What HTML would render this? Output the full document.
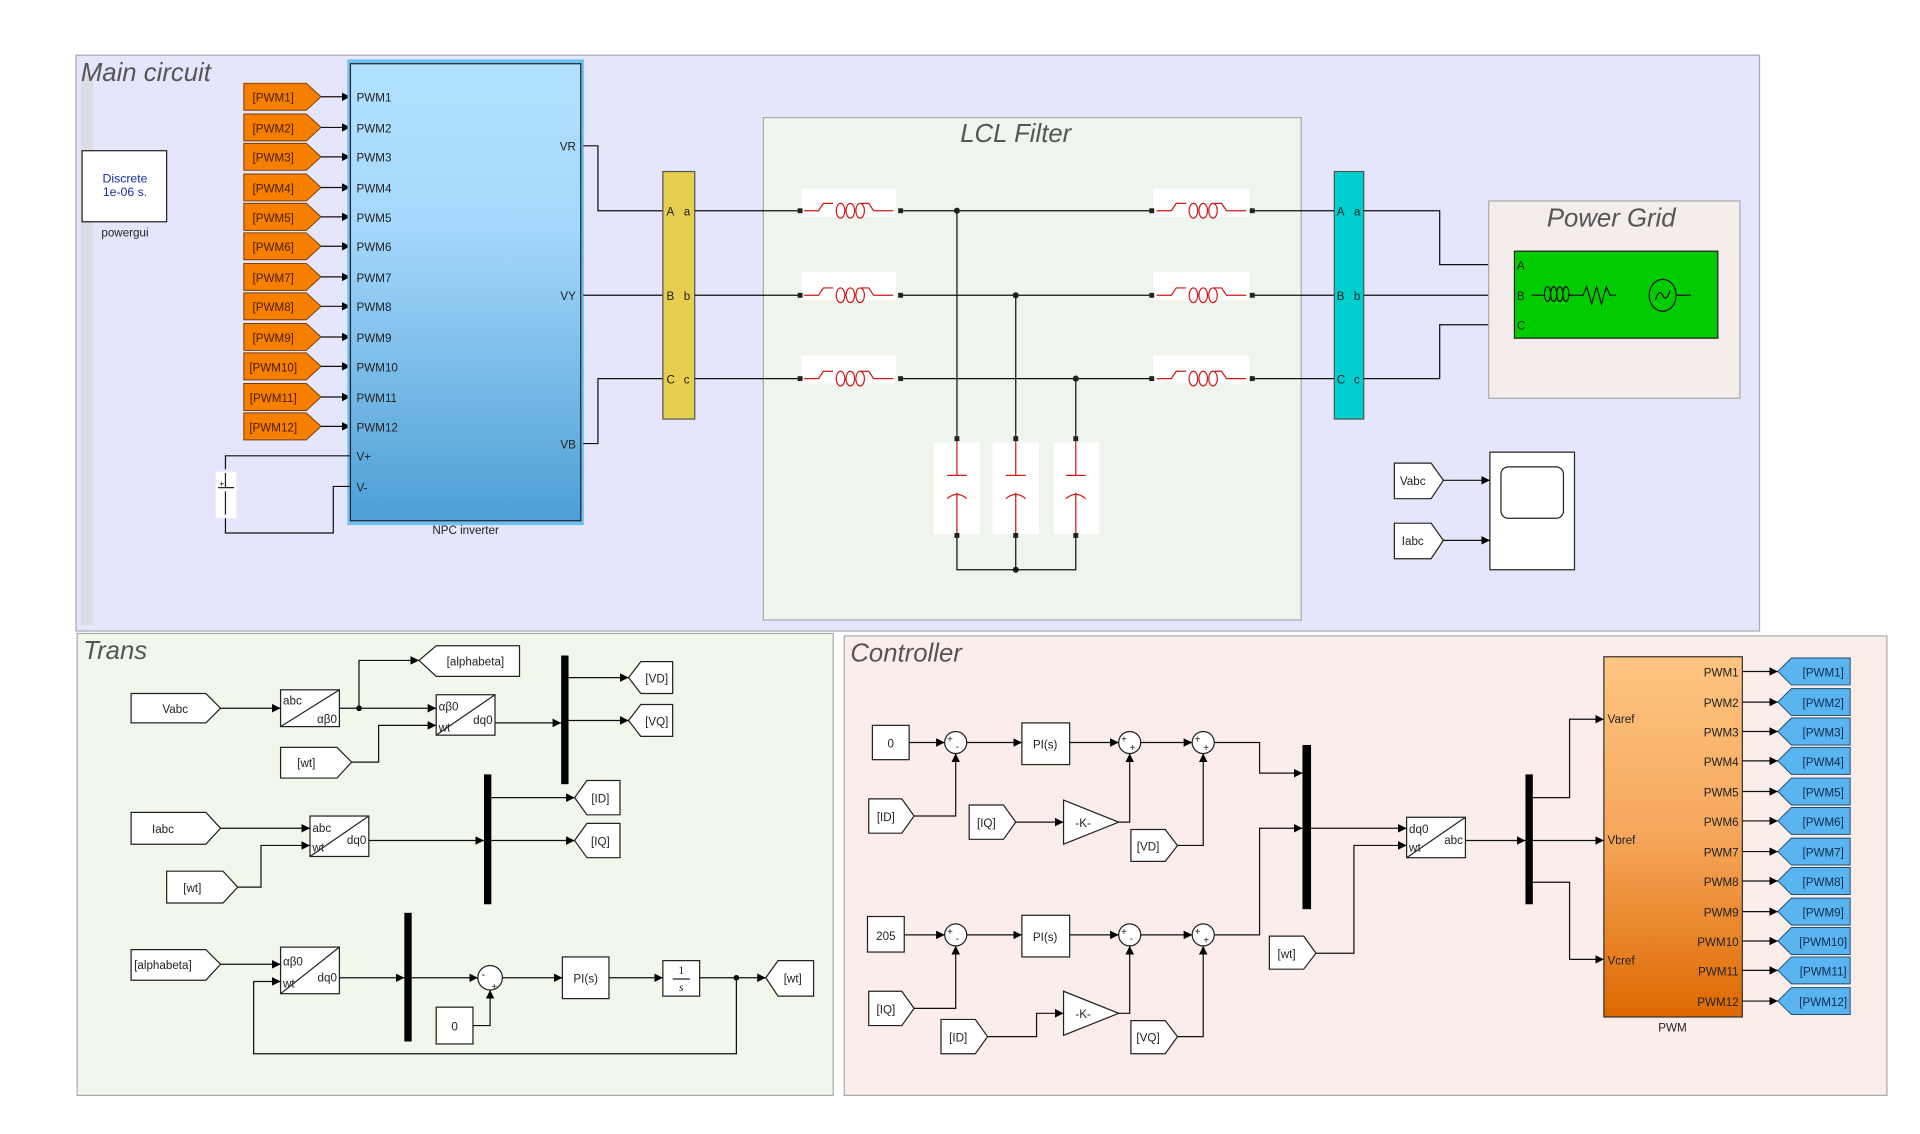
<!DOCTYPE html>
<html><head><meta charset="utf-8"><style>
html,body{margin:0;padding:0;background:#fff;}
svg{display:block;}
text{font-family:"Liberation Sans",sans-serif;}
.t{font-size:9.5px;fill:#222;}
.ttl{font-size:21px;font-style:italic;fill:#555;}
.w{stroke:#111;stroke-width:1;fill:none;}
.blk{fill:#fff;stroke:#222;stroke-width:1;}
</style></head><body>
<svg width="1920" height="1134" viewBox="0 0 1567 925.5" preserveAspectRatio="none" xmlns="http://www.w3.org/2000/svg">
<defs>
<marker id="a" viewBox="0 0 10 10" refX="10" refY="5" markerWidth="7" markerHeight="7" markerUnits="userSpaceOnUse" orient="auto"><path d="M0,0L10,5L0,10z" fill="#000"/></marker>
<linearGradient id="gb" x1="0" y1="0" x2="0" y2="1"><stop offset="0" stop-color="#b2e0ff"/><stop offset="0.35" stop-color="#a6d8fb"/><stop offset="1" stop-color="#4d9fd6"/></linearGradient>
<linearGradient id="go" x1="0" y1="0" x2="0" y2="1"><stop offset="0" stop-color="#ffc582"/><stop offset="0.5" stop-color="#f5a65a"/><stop offset="1" stop-color="#de6800"/></linearGradient>
<g id="ind" stroke="#d01818" fill="none" stroke-width="1">
<path d="M0,0h12l4,-6h8M47,-6h6l4,6h16"/>
<ellipse cx="30" cy="0" rx="3.5" ry="6"/><ellipse cx="38" cy="0" rx="3.5" ry="6"/><ellipse cx="46" cy="0" rx="3.5" ry="6"/>
</g>
</defs>

<!-- MAIN CIRCUIT -->
<rect x="62" y="45" width="1374" height="470" fill="#e5e5fb" stroke="#a9a9b5"/>
<rect x="66" y="60" width="10" height="450" fill="#dcdce4"/>
<text x="66" y="66" class="ttl">Main circuit</text>

<rect x="67" y="123" width="69" height="58" class="blk"/>
<text x="102" y="149" text-anchor="middle" style="font-size:10px;fill:#1a2ab0">Discrete</text>
<text x="102" y="160" text-anchor="middle" style="font-size:10px;fill:#1a2ab0">1e-06 s.</text>
<text x="102" y="193" text-anchor="middle" class="t">powergui</text>

<g fill="#f77f00" stroke="#7a3c00" stroke-width="0.8">
<polygon points="199,68 250,68 262,79 250,90 199,90"/>
<polygon points="199,93 250,93 262,104 250,115 199,115"/>
<polygon points="199,117 250,117 262,128 250,139 199,139"/>
<polygon points="199,142 250,142 262,153 250,164 199,164"/>
<polygon points="199,166 250,166 262,177 250,188 199,188"/>
<polygon points="199,190 250,190 262,201 250,212 199,212"/>
<polygon points="199,215 250,215 262,226 250,237 199,237"/>
<polygon points="199,239 250,239 262,250 250,261 199,261"/>
<polygon points="199,264 250,264 262,275 250,286 199,286"/>
<polygon points="199,288 250,288 262,299 250,310 199,310"/>
<polygon points="199,313 250,313 262,324 250,335 199,335"/>
<polygon points="199,337 250,337 262,348 250,359 199,359"/>
</g>
<g class="t" text-anchor="middle" style="fill:#4a1d00">
<text x="223" y="83">[PWM1]</text><text x="223" y="108">[PWM2]</text><text x="223" y="132">[PWM3]</text>
<text x="223" y="157">[PWM4]</text><text x="223" y="181">[PWM5]</text><text x="223" y="205">[PWM6]</text>
<text x="223" y="230">[PWM7]</text><text x="223" y="254">[PWM8]</text><text x="223" y="279">[PWM9]</text>
<text x="223" y="303">[PWM10]</text><text x="223" y="328">[PWM11]</text><text x="223" y="352">[PWM12]</text>
</g>
<g class="w" marker-end="url(#a)">
<path d="M262,79H286"/><path d="M262,104H286"/><path d="M262,128H286"/><path d="M262,153H286"/>
<path d="M262,177H286"/><path d="M262,201H286"/><path d="M262,226H286"/><path d="M262,250H286"/>
<path d="M262,275H286"/><path d="M262,299H286"/><path d="M262,324H286"/><path d="M262,348H286"/>
</g>
<rect x="285" y="50" width="190" height="377" fill="none" stroke="#6cbff5" stroke-width="3"/>
<rect x="286" y="52" width="188" height="373" fill="url(#gb)" stroke="#222"/>
<g class="t">
<text x="291" y="83">PWM1</text><text x="291" y="108">PWM2</text><text x="291" y="132">PWM3</text>
<text x="291" y="157">PWM4</text><text x="291" y="181">PWM5</text><text x="291" y="205">PWM6</text>
<text x="291" y="230">PWM7</text><text x="291" y="254">PWM8</text><text x="291" y="279">PWM9</text>
<text x="291" y="303">PWM10</text><text x="291" y="328">PWM11</text><text x="291" y="352">PWM12</text>
<text x="291" y="376">V+</text><text x="291" y="401">V-</text>
<text x="470" y="123" text-anchor="end">VR</text><text x="470" y="245" text-anchor="end">VY</text><text x="470" y="366" text-anchor="end">VB</text>
<text x="380" y="436" text-anchor="middle">NPC inverter</text>
</g>
<rect x="176" y="385" width="17" height="38" fill="#fff"/>
<path d="M178,398H191M184,401V420M184,386V398" stroke="#222" fill="none"/>
<text x="179" y="397" style="font-size:7px">+</text>
<path class="w" d="M184,383V372H286M184,423V435H272V397H286"/>

<path class="w" d="M476,119H488V172H541M476,241H541M476,362H488V309H541"/>
<rect x="541" y="140" width="26" height="202" fill="#e6cf50" stroke="#555"/>
<g class="t"><text x="544" y="176">A</text><text x="558" y="176">a</text><text x="544" y="245">B</text><text x="558" y="245">b</text><text x="544" y="313">C</text><text x="558" y="313">c</text></g>

<rect x="623" y="96" width="439" height="410" fill="#eff5ec" stroke="#aaa"/>
<text x="829" y="116" text-anchor="middle" class="ttl">LCL Filter</text>
<path class="w" d="M567,172H654M567,241H654M567,309H654M735,172H941M735,241H941M735,309H941M1020,172H1089M1020,241H1089M1020,309H1089"/>
<g fill="#fff">
<rect x="654" y="154" width="77" height="23"/><rect x="654" y="222" width="77" height="23"/><rect x="654" y="290" width="77" height="23"/>
<rect x="941" y="154" width="79" height="23"/><rect x="941" y="222" width="79" height="23"/><rect x="941" y="290" width="79" height="23"/>
</g>
<use href="#ind" x="656" y="172"/><use href="#ind" x="656" y="241"/><use href="#ind" x="656" y="309"/>
<use href="#ind" x="944" y="172"/><use href="#ind" x="944" y="241"/><use href="#ind" x="944" y="309"/>
<g fill="#222">
<rect x="651" y="170" width="4" height="4"/><rect x="733" y="170" width="4" height="4"/><rect x="938" y="170" width="4" height="4"/><rect x="1020" y="170" width="4" height="4"/>
<rect x="651" y="239" width="4" height="4"/><rect x="733" y="239" width="4" height="4"/><rect x="938" y="239" width="4" height="4"/><rect x="1020" y="239" width="4" height="4"/>
<rect x="651" y="307" width="4" height="4"/><rect x="733" y="307" width="4" height="4"/><rect x="938" y="307" width="4" height="4"/><rect x="1020" y="307" width="4" height="4"/>
<circle cx="781" cy="172" r="2.5"/><circle cx="829" cy="241" r="2.5"/><circle cx="878" cy="309" r="2.5"/><circle cx="829" cy="465" r="2.5"/>
</g>
<path class="w" d="M781,172V358M829,241V358M878,309V358M781,437V465H878V437M829,437V465"/>
<g fill="#fff"><rect x="762" y="361" width="38" height="75"/><rect x="810" y="361" width="38" height="75"/><rect x="860" y="361" width="37" height="75"/></g>
<g stroke="#d01818" fill="none">
<path d="M781,358V388M773,388H789M773,407Q781,400 789,407M781,402V437"/>
<path d="M829,358V388M821,388H837M821,407Q829,400 837,407M829,402V437"/>
<path d="M878,358V388M870,388H886M870,407Q878,400 886,407M878,402V437"/>
</g>
<g fill="#222"><rect x="779" y="356" width="4" height="4"/><rect x="827" y="356" width="4" height="4"/><rect x="876" y="356" width="4" height="4"/>
<rect x="779" y="435" width="4" height="4"/><rect x="827" y="435" width="4" height="4"/><rect x="876" y="435" width="4" height="4"/></g>

<rect x="1089" y="140" width="24" height="202" fill="#00cfcf" stroke="#555"/>
<g class="t"><text x="1091" y="176">A</text><text x="1105" y="176">a</text><text x="1091" y="245">B</text><text x="1105" y="245">b</text><text x="1091" y="313">C</text><text x="1105" y="313">c</text></g>
<path class="w" d="M1113,172H1175V216H1236M1113,241H1236M1113,309H1175V265H1236"/>

<rect x="1215" y="164" width="205" height="161" fill="#f5ecec" stroke="#aaa"/>
<text x="1315" y="185" text-anchor="middle" class="ttl">Power Grid</text>
<rect x="1236" y="205" width="166" height="71" fill="#00cc00" stroke="#222"/>
<g class="t"><text x="1238" y="220">A</text><text x="1238" y="245">B</text><text x="1238" y="269">C</text></g>
<path d="M1250,241h10M1280,241h12l3,-7l4,14l4,-14l4,14l4,-14l3,7h5M1368,241h12" stroke="#111" fill="none"/>
<g stroke="#111" fill="none"><ellipse cx="1263" cy="240" rx="2.5" ry="6"/><ellipse cx="1268" cy="240" rx="2.5" ry="6"/><ellipse cx="1273" cy="240" rx="2.5" ry="6"/><ellipse cx="1278" cy="240" rx="2.5" ry="6"/></g>
<ellipse cx="1357" cy="241" rx="11" ry="13" stroke="#111" fill="none"/>
<path d="M1351,245q3,-10 6,-4q3,6 6,-4" stroke="#111" fill="none"/>

<polygon points="1138,378 1168,378 1178,392 1168,407 1138,407" class="blk"/>
<polygon points="1138,427 1168,427 1178,441 1168,456 1138,456" class="blk"/>
<text x="1153" y="396" text-anchor="middle" class="t">Vabc</text><text x="1153" y="445" text-anchor="middle" class="t">Iabc</text>
<path class="w" marker-end="url(#a)" d="M1178,392H1216"/><path class="w" marker-end="url(#a)" d="M1178,441H1216"/>
<rect x="1216" y="369" width="69" height="96" class="blk"/>
<rect x="1225" y="381" width="51" height="42" rx="6" fill="#fff" stroke="#222"/>

<!-- TRANS -->
<rect x="63" y="517" width="617" height="377" fill="#f1f7ea" stroke="#aaa"/>
<text x="68" y="538" class="ttl">Trans</text>
<g class="blk">
<polygon points="107,566 168,566 180,578 168,590 107,590"/>
<polygon points="424,527 356,527 342,539 356,552 424,552"/>
<polygon points="229,610 275,610 287,622 275,635 229,635"/>
<polygon points="549,540 523,540 513,553 523,566 549,566"/>
<polygon points="549,575 523,575 513,588 523,601 549,601"/>
<polygon points="107,663 168,663 180,676 168,689 107,689"/>
<polygon points="136,711 182,711 194,724 182,737 136,737"/>
<polygon points="506,637 479,637 469,651 479,665 506,665"/>
<polygon points="506,672 479,672 469,686 479,700 506,700"/>
<polygon points="107,775 168,775 180,787 168,800 107,800"/>
<polygon points="664,784 635,784 625,798 635,813 664,813"/>
<rect x="229" y="563" width="48" height="30"/><rect x="356" y="567" width="48" height="33"/>
<rect x="253" y="666" width="48" height="33"/><rect x="229" y="773" width="48" height="38"/>
<rect x="356" y="822" width="30" height="30"/><rect x="459" y="781" width="38" height="34"/><rect x="541" y="784" width="30" height="29"/>
<circle cx="400" cy="798" r="10"/>
</g>
<path d="M229,593L277,563M356,600L404,567M253,699L301,666M229,811L277,773" stroke="#222" fill="none"/>
<g class="t" text-anchor="middle">
<text x="143" y="582">Vabc</text><text x="388" y="543">[alphabeta]</text><text x="250" y="626">[wt]</text>
<text x="536" y="557">[VD]</text><text x="536" y="592">[VQ]</text><text x="133" y="680">Iabc</text><text x="157" y="728">[wt]</text>
<text x="490" y="655">[ID]</text><text x="490" y="690">[IQ]</text><text x="133" y="791">[alphabeta]</text><text x="647" y="802">[wt]</text>
<text x="371" y="841">0</text><text x="478" y="802">PI(s)</text><text x="556" y="795" style="font-family:'Liberation Serif',serif">1</text><text x="556" y="809" style="font-family:'Liberation Serif',serif;font-style:italic">s</text>
</g>
<path d="M549,799H563" stroke="#222"/>
<g class="t">
<text x="231" y="575">abc</text><text x="275" y="590" text-anchor="end">αβ0</text>
<text x="358" y="580">αβ0</text><text x="358" y="597">wt</text><text x="402" y="591" text-anchor="end">dq0</text>
<text x="255" y="679">abc</text><text x="255" y="695">wt</text><text x="299" y="689" text-anchor="end">dq0</text>
<text x="231" y="788">αβ0</text><text x="231" y="806">wt</text><text x="275" y="801" text-anchor="end">dq0</text>
<text x="393" y="798" style="font-size:9px">-</text><text x="401" y="808" style="font-size:8px">+</text>
</g>
<rect x="458" y="535" width="6" height="105" fill="#000"/>
<rect x="395" y="632" width="6" height="106" fill="#000"/>
<rect x="330" y="745" width="6" height="105" fill="#000"/>
<g fill="#000"><circle cx="293" cy="578" r="2.3"/><circle cx="601" cy="798" r="2.3"/></g>
<g class="w" marker-end="url(#a)">
<path d="M180,578H229"/><path d="M277,578H356"/><path d="M293,578V539H342"/><path d="M287,622H309V592H356"/>
<path d="M404,590H458"/><path d="M464,553H513"/><path d="M464,588H513"/>
<path d="M180,676H253"/><path d="M194,724H213V690H253"/><path d="M301,686H395"/>
<path d="M401,651H469"/><path d="M401,686H469"/>
<path d="M180,787H229"/><path d="M277,798H330"/><path d="M336,798H390"/><path d="M386,837H400V808"/>
<path d="M410,798H459"/><path d="M497,798H541"/><path d="M571,798H625"/><path d="M601,798V860H207V801H229"/>
</g>

<!-- CONTROLLER -->
<rect x="689" y="519" width="851" height="375" fill="#fbeeea" stroke="#aaa"/>
<text x="694" y="540" class="ttl">Controller</text>
<g class="blk">
<rect x="712" y="592" width="30" height="28"/><rect x="834" y="590" width="39" height="34"/>
<rect x="708" y="748" width="30" height="29"/><rect x="834" y="747" width="39" height="34"/>
<circle cx="780" cy="606" r="9"/><circle cx="922" cy="606" r="9"/><circle cx="982" cy="606" r="9"/>
<circle cx="780" cy="763" r="9"/><circle cx="922" cy="763" r="9"/><circle cx="982" cy="763" r="9"/>
<polygon points="709,652 736,652 746,666 736,680 709,680"/>
<polygon points="791,657 819,657 829,671 819,685 791,685"/>
<polygon points="923,677 951,677 961,690 951,703 923,703"/>
<polygon points="709,809 736,809 746,823 736,837 709,837"/>
<polygon points="768,832 796,832 806,846 796,860 768,860"/>
<polygon points="923,833 951,833 961,846 951,860 923,860"/>
<polygon points="1036,764 1064,764 1074,778 1064,791 1036,791"/>
<polygon points="868,653 913,671 868,689"/><polygon points="868,809 913,827 868,845"/>
<rect x="1148" y="667" width="48" height="33"/>
</g>
<path d="M1148,700L1196,667" stroke="#222"/>
<g class="t" text-anchor="middle">
<text x="727" y="610">0</text><text x="853" y="611">PI(s)</text><text x="723" y="767">205</text><text x="853" y="768">PI(s)</text>
<text x="723" y="670">[ID]</text><text x="805" y="675">[IQ]</text><text x="937" y="694">[VD]</text>
<text x="723" y="827">[IQ]</text><text x="782" y="850">[ID]</text><text x="937" y="850">[VQ]</text><text x="1050" y="782">[wt]</text>
<text x="884" y="675">-K-</text><text x="884" y="831">-K-</text>
</g>
<g class="t" style="font-size:8px">
<text x="773" y="606">+</text><text x="780" y="612">-</text><text x="915" y="606">+</text><text x="922" y="613">+</text><text x="975" y="606">+</text><text x="982" y="613">+</text>
<text x="773" y="763">+</text><text x="780" y="769">-</text><text x="915" y="763">+</text><text x="922" y="769">-</text><text x="975" y="763">+</text><text x="982" y="770">+</text>
</g>
<g class="t"><text x="1150" y="680">dq0</text><text x="1150" y="695">wt</text><text x="1194" y="689" text-anchor="end">abc</text></g>
<rect x="1063" y="608" width="7" height="134" fill="#000"/>
<rect x="1245" y="632" width="6" height="106" fill="#000"/>
<g class="w" marker-end="url(#a)">
<path d="M742,606H771"/><path d="M789,606H834"/><path d="M873,606H913"/><path d="M931,606H973"/>
<path d="M746,666H780V615"/><path d="M829,671H868"/><path d="M913,671H922V615"/><path d="M961,690H982V615"/>
<path d="M991,606H1028V631H1063"/>
<path d="M738,763H771"/><path d="M789,763H834"/><path d="M873,763H913"/><path d="M931,763H973"/>
<path d="M746,823H780V772"/><path d="M806,846H846V827H868"/><path d="M913,827H922V772"/><path d="M961,846H982V772"/>
<path d="M991,763H1028V676H1063"/>
<path d="M1070,676H1148"/><path d="M1074,778H1105V690H1148"/><path d="M1196,686H1245"/>
<path d="M1251,651H1281V587H1309"/><path d="M1251,686H1309"/><path d="M1251,720H1281V783H1309"/>
</g>
<rect x="1309" y="536" width="113" height="294" fill="url(#go)" stroke="#333"/>
<g class="t"><text x="1312" y="590">Varef</text><text x="1312" y="689">Vbref</text><text x="1312" y="787">Vcref</text></g>
<text x="1365" y="842" text-anchor="middle" class="t">PWM</text>
<g class="t" text-anchor="end">
<text x="1419" y="552">PWM1</text><text x="1419" y="577">PWM2</text><text x="1419" y="601">PWM3</text><text x="1419" y="625">PWM4</text>
<text x="1419" y="650">PWM5</text><text x="1419" y="674">PWM6</text><text x="1419" y="699">PWM7</text><text x="1419" y="723">PWM8</text>
<text x="1419" y="748">PWM9</text><text x="1419" y="772">PWM10</text><text x="1419" y="796">PWM11</text><text x="1419" y="821">PWM12</text>
</g>
<g class="w" marker-end="url(#a)">
<path d="M1422,548H1451"/><path d="M1422,573H1451"/><path d="M1422,597H1451"/><path d="M1422,621H1451"/>
<path d="M1422,646H1451"/><path d="M1422,670H1451"/><path d="M1422,695H1451"/><path d="M1422,719H1451"/>
<path d="M1422,744H1451"/><path d="M1422,768H1451"/><path d="M1422,792H1451"/><path d="M1422,817H1451"/>
</g>
<g fill="#5ab4f0" stroke="#1d4f73" stroke-width="0.8">
<polygon points="1451,548 1462,537 1510,537 1510,559 1462,559"/>
<polygon points="1451,573 1462,562 1510,562 1510,584 1462,584"/>
<polygon points="1451,597 1462,586 1510,586 1510,608 1462,608"/>
<polygon points="1451,621 1462,610 1510,610 1510,632 1462,632"/>
<polygon points="1451,646 1462,635 1510,635 1510,657 1462,657"/>
<polygon points="1451,670 1462,659 1510,659 1510,681 1462,681"/>
<polygon points="1451,695 1462,684 1510,684 1510,706 1462,706"/>
<polygon points="1451,719 1462,708 1510,708 1510,730 1462,730"/>
<polygon points="1451,744 1462,733 1510,733 1510,755 1462,755"/>
<polygon points="1451,768 1462,757 1510,757 1510,779 1462,779"/>
<polygon points="1451,792 1462,781 1510,781 1510,803 1462,803"/>
<polygon points="1451,817 1462,806 1510,806 1510,828 1462,828"/>
</g>
<g class="t" text-anchor="middle" style="fill:#0d2d50">
<text x="1488" y="552">[PWM1]</text><text x="1488" y="577">[PWM2]</text><text x="1488" y="601">[PWM3]</text><text x="1488" y="625">[PWM4]</text>
<text x="1488" y="650">[PWM5]</text><text x="1488" y="674">[PWM6]</text><text x="1488" y="699">[PWM7]</text><text x="1488" y="723">[PWM8]</text>
<text x="1488" y="748">[PWM9]</text><text x="1488" y="772">[PWM10]</text><text x="1488" y="796">[PWM11]</text><text x="1488" y="821">[PWM12]</text>
</g>
</svg>
</body></html>
